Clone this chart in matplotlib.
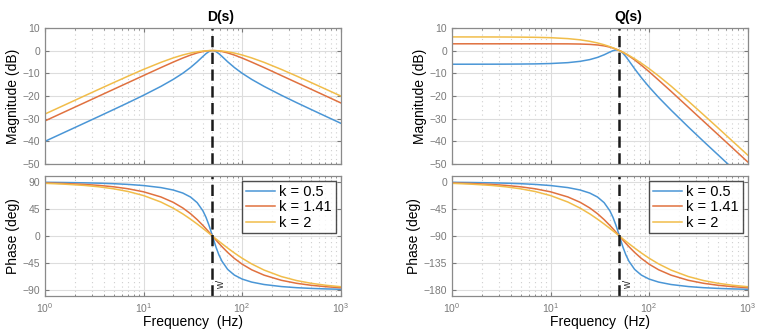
import numpy as np
import matplotlib
matplotlib.use("Agg")
import matplotlib.pyplot as plt
from matplotlib.ticker import LogLocator, NullFormatter

plt.rcParams['font.family'] = ['Liberation Sans', 'DejaVu Sans']

# frequency points (Hz)
freq = [1, 1.5, 2.5, 3.5, 5, 7, 10, 15, 20, 25, 30, 35, 40, 43, 46, 48, 50,
        52.1, 54.3, 58.1, 62.5, 71.4, 83.3, 100, 125, 167, 250, 357, 500, 714, 1000]
k_labels = ['k = 0.5', 'k = 1.41', 'k = 2']
f_cross = 50

# D(s) magnitude (dB)
d_mag_05 = [-40.00, -36.47, -32.02, -29.08, -25.94, -22.95, -19.69, -15.78, -12.70, -10.00, -7.44,
            -4.95, -2.58, -1.36, -0.46, -0.11, 0, -0.11, -0.46, -1.36, -2.58, -4.95, -7.44, -10.00,
            -12.70, -15.78, -19.69, -22.95, -25.94, -29.08, -32.02]
d_mag_141 = [-31.00, -27.47, -23.04, -20.11, -17.02, -14.09, -11.00, -7.50, -5.08, -3.29, -1.97,
             -1.03, -0.42, -0.20, -0.06, -0.01, 0, -0.01, -0.06, -0.20, -0.42, -1.03, -1.97, -3.29,
             -5.08, -7.50, -11.00, -14.09, -17.02, -20.11, -23.04]
d_mag_2 = [-27.96, -24.45, -20.02, -17.12, -14.07, -11.23, -8.30, -5.19, -3.23, -1.94, -1.09,
           -0.54, -0.21, -0.10, -0.03, -0.01, 0, -0.01, -0.03, -0.10, -0.21, -0.54, -1.09, -1.94,
           -3.23, -5.19, -8.30, -11.23, -14.07, -17.12, -20.02]

# D(s) phase (deg)
d_ph_05 = [89.43, 89.14, 88.56, 87.99, 87.11, 85.92, 84.05, 80.64, 76.61, 71.57, 64.89, 55.54,
           41.99, 31.20, 18.46, 9.28, 0, -9.28, -18.46, -31.20, -41.99, -55.54, -64.89, -71.57,
           -76.61, -80.64, -84.05, -85.92, -87.11, -87.99, -88.56]
d_ph_141 = [88.38, 87.58, 85.96, 84.34, 81.89, 78.62, 73.63, 65.07, 56.13, 46.77, 37.11, 27.32,
            17.70, 12.12, 6.75, 3.32, 0, -3.32, -6.75, -12.12, -17.70, -27.32, -37.11, -46.77,
            -56.13, -65.07, -73.63, -78.62, -81.89, -84.34, -85.96]
d_ph_2 = [87.71, 86.56, 84.28, 81.99, 78.58, 74.06, 67.38, 56.60, 46.40, 36.87, 28.07, 20.02,
          12.68, 8.61, 4.77, 2.34, 0, -2.34, -4.77, -8.61, -12.68, -20.02, -28.07, -36.87,
          -46.40, -56.60, -67.38, -74.06, -78.58, -81.99, -84.28]

# Q(s) magnitude (dB)
q_mag_05 = [-6.02, -6.01, -6.00, -5.98, -5.94, -5.87, -5.71, -5.32, -4.74, -3.98, -3.00, -1.85,
            -0.64, -0.05, 0.26, 0.24, 0, -0.46, -1.18, -2.67, -4.52, -8.05, -11.88, -16.02,
            -20.66, -26.24, -33.67, -40.03, -45.94, -52.18, -58.04]
q_mag_141 = [2.98, 2.99, 2.98, 2.99, 2.98, 2.99, 2.98, 2.96, 2.88, 2.73, 2.47, 2.07, 1.52, 1.11,
             0.66, 0.34, 0, -0.36, -0.78, -1.51, -2.36, -4.13, -6.41, -9.31, -13.04, -17.96,
             -24.98, -31.17, -37.02, -43.21, -49.06]
q_mag_2 = [6.02, 6.01, 6.00, 5.98, 5.93, 5.85, 5.68, 5.27, 4.73, 4.08, 3.35, 2.56, 1.73, 1.21,
           0.69, 0.34, 0, -0.36, -0.75, -1.41, -2.15, -3.64, -5.53, -7.96, -11.19, -15.65,
           -22.28, -28.31, -34.07, -40.22, -46.04]

# Q(s) phase (deg)
q_ph_05 = [-0.57, -0.86, -1.44, -2.01, -2.89, -4.08, -5.95, -9.36, -13.39, -18.43, -25.11, -34.46,
           -48.01, -58.80, -71.54, -80.72, -90, -99.28, -108.46, -121.20, -131.99, -145.54,
           -154.89, -161.57, -166.61, -170.64, -174.05, -175.92, -177.11, -177.99, -178.56]
q_ph_141 = [-1.62, -2.42, -4.04, -5.66, -8.11, -11.38, -16.37, -24.93, -33.87, -43.23, -52.89,
            -62.68, -72.30, -77.88, -83.25, -86.68, -90, -93.32, -96.75, -102.12, -107.70,
            -117.32, -127.11, -136.77, -146.13, -155.07, -163.63, -168.62, -171.89, -174.34,
            -175.96]
q_ph_2 = [-2.29, -3.44, -5.72, -8.01, -11.42, -15.94, -22.62, -33.40, -43.60, -53.13, -61.93,
          -69.98, -77.32, -81.39, -85.23, -87.66, -90, -92.34, -94.77, -98.61, -102.68, -110.02,
          -118.07, -126.87, -136.40, -146.60, -157.38, -164.06, -168.58, -171.99, -174.28]

colors = ['#4a96d6', '#e0713f', '#f1bd4a']
tick_col = '#7a7a7a'


def style_axis(ax, yticks, ylim):
    ax.set_xscale('log')
    ax.set_xlim(1, 1000)
    ax.set_ylim(*ylim)
    ax.set_yticks(yticks)
    ax.xaxis.set_major_locator(LogLocator(base=10, numticks=10))
    ax.xaxis.set_minor_locator(LogLocator(base=10, subs=np.arange(2, 10), numticks=10))
    ax.xaxis.set_minor_formatter(NullFormatter())
    ax.grid(True, which='major', color='#dddddd', linewidth=0.8)
    ax.grid(True, which='minor', axis='x', color='#cfcfcf', linestyle=(0, (1, 3)), linewidth=0.8)
    ax.tick_params(which='both', direction='in', top=True, right=True, colors=tick_col,
                   labelsize=7.5, length=3)
    ax.tick_params(which='minor', length=1.5)
    for s in ax.spines.values():
        s.set_color('#8a8a8a')
        s.set_linewidth(0.9)
    ax.set_axisbelow(True)


fig = plt.figure(figsize=(7.68, 3.32), dpi=100)

panels = [
    (0.0586, 'D(s)', [d_mag_05, d_mag_141, d_mag_2], [d_ph_05, d_ph_141, d_ph_2],
     [-90, -45, 0, 45, 90], (-100, 100)),
    (0.5885, 'Q(s)', [q_mag_05, q_mag_141, q_mag_2], [q_ph_05, q_ph_141, q_ph_2],
     [-180, -135, -90, -45, 0], (-190, 10)),
]

for left, title, mags, phs, ph_ticks, ph_lim in panels:
    ax_m = fig.add_axes([left, 0.506, 0.385, 0.410])
    ax_p = fig.add_axes([left, 0.108, 0.385, 0.362], sharex=ax_m)

    for mag, ph, c, lab in zip(mags, phs, colors, k_labels):
        ax_m.plot(freq, mag, color=c, linewidth=1.1)
        ax_p.plot(freq, ph, color=c, linewidth=1.1, label=lab)

    style_axis(ax_m, [-50, -40, -30, -20, -10, 0, 10], (-50, 10))
    style_axis(ax_p, ph_ticks, ph_lim)
    plt.setp(ax_m.get_xticklabels(), visible=False)

    for ax in (ax_m, ax_p):
        ax.axvline(f_cross, color='#1a1a1a', linestyle=(0, (4.5, 2.2)), linewidth=1.8)

    ax_p.text(f_cross * 1.09, ph_lim[0] + 0.06 * (ph_lim[1] - ph_lim[0]), "w'",
              rotation=90, fontsize=7.5, color='#333333', ha='left', va='bottom')

    ax_m.set_title(title, fontsize=10, fontweight='bold', x=0.595, pad=5)
    ax_m.set_ylabel('Magnitude (dB)', fontsize=10, labelpad=2)
    ax_p.set_ylabel('Phase (deg)', fontsize=10, labelpad=2)
    ax_p.set_xlabel('Frequency  (Hz)', fontsize=10, labelpad=0)

    leg = ax_p.legend(loc='upper right', fontsize=10.5, frameon=True, fancybox=False,
                      handlelength=2.0, borderpad=0.25, labelspacing=0.1,
                      handletextpad=0.3, borderaxespad=0.35)
    leg.get_frame().set_edgecolor('#222222')
    leg.get_frame().set_linewidth(1.0)

fig.savefig('out.png', dpi=100)
